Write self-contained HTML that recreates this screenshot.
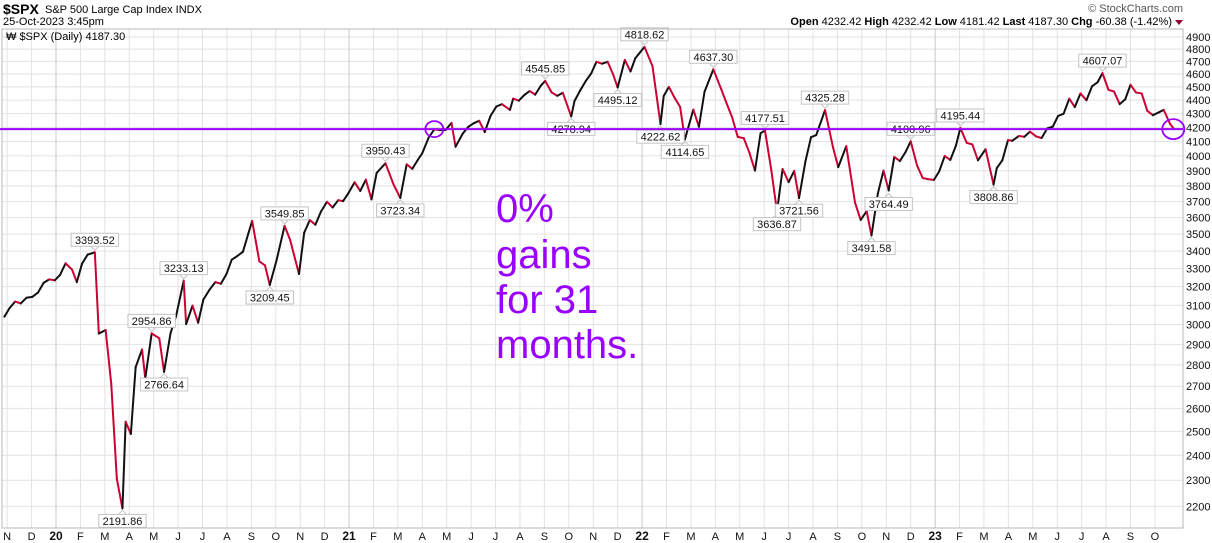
<!DOCTYPE html>
<html><head><meta charset="utf-8">
<style>
html,body{margin:0;padding:0;background:#fff;}
body{width:1212px;height:543px;overflow:hidden;position:relative;font-family:"Liberation Sans",Arial,sans-serif;}
svg{position:absolute;left:0;top:0;}
</style></head>
<body>
<svg id="chart" width="1212" height="543" viewBox="0 0 1212 543" xmlns="http://www.w3.org/2000/svg" font-family="Liberation Sans, Arial, sans-serif">
  <g id="grid"></g>
  <g id="series"></g>
  <g id="annots"></g>
  <g id="yaxis"></g>
  <g id="xaxis"></g>
  <rect x="2" y="29" width="1181" height="499" fill="none" stroke="#b8b8b8" stroke-width="1"/>
  <text x="3" y="14" font-size="14" font-weight="bold">$SPX</text>
  <text x="45" y="13" font-size="11">S&amp;P 500 Large Cap Index  INDX</text>
  <text x="3" y="25" font-size="11">25-Oct-2023 3:45pm</text>
  <text x="6" y="40" font-size="11">₩ $SPX (Daily) 4187.30</text>
  <text x="1183" y="12" font-size="11" fill="#555" text-anchor="end">© StockCharts.com</text>
  <text x="1172" y="25" font-size="11" text-anchor="end"><tspan font-weight="bold">Open</tspan> 4232.42  <tspan font-weight="bold">High</tspan> 4232.42  <tspan font-weight="bold">Low</tspan> 4181.42  <tspan font-weight="bold">Last</tspan> 4187.30  <tspan font-weight="bold">Chg</tspan> -60.38 (-1.42%)</text>
  <path d="M1175 20 L1183 20 L1179 25 Z" fill="#8b0030"/>
  <g id="overlay"></g>
  <g font-size="40" fill="#9900ff">
    <text x="496" y="222">0%</text>
    <text x="496" y="268">gains</text>
    <text x="496" y="313">for 31</text>
    <text x="496" y="358">months.</text>
  </g>
</svg>
<script>
const dates = ["2019-10-28","2019-11-04","2019-11-11","2019-11-18","2019-11-25","2019-12-02","2019-12-09","2019-12-16","2019-12-23","2019-12-30","2020-01-06","2020-01-13","2020-01-21","2020-01-27","2020-02-03","2020-02-10","2020-02-19","2020-02-24","2020-03-02","2020-03-09","2020-03-16","2020-03-23","2020-03-27","2020-04-03","2020-04-09","2020-04-17","2020-04-21","2020-04-29","2020-05-08","2020-05-14","2020-05-22","2020-05-29","2020-06-08","2020-06-11","2020-06-19","2020-06-26","2020-07-02","2020-07-10","2020-07-17","2020-07-24","2020-07-31","2020-08-07","2020-08-14","2020-08-21","2020-08-28","2020-09-02","2020-09-11","2020-09-18","2020-09-24","2020-10-02","2020-10-12","2020-10-19","2020-10-30","2020-11-06","2020-11-13","2020-11-20","2020-11-27","2020-12-04","2020-12-11","2020-12-18","2020-12-24","2020-12-31","2021-01-08","2021-01-15","2021-01-22","2021-01-29","2021-02-05","2021-02-16","2021-02-26","2021-03-04","2021-03-12","2021-03-19","2021-03-26","2021-04-01","2021-04-09","2021-04-16","2021-04-23","2021-04-30","2021-05-07","2021-05-12","2021-05-21","2021-05-28","2021-06-04","2021-06-11","2021-06-18","2021-06-25","2021-07-02","2021-07-09","2021-07-19","2021-07-23","2021-07-30","2021-08-06","2021-08-13","2021-08-20","2021-08-27","2021-09-02","2021-09-10","2021-09-17","2021-09-24","2021-10-04","2021-10-08","2021-10-15","2021-10-22","2021-10-29","2021-11-05","2021-11-12","2021-11-19","2021-11-26","2021-12-01","2021-12-10","2021-12-17","2021-12-23","2022-01-04","2022-01-14","2022-01-24","2022-01-28","2022-02-04","2022-02-11","2022-02-18","2022-02-24","2022-03-04","2022-03-11","2022-03-18","2022-03-29","2022-04-08","2022-04-14","2022-04-22","2022-04-29","2022-05-06","2022-05-13","2022-05-20","2022-05-27","2022-06-02","2022-06-10","2022-06-17","2022-06-24","2022-07-01","2022-07-08","2022-07-14","2022-07-22","2022-07-29","2022-08-05","2022-08-16","2022-08-26","2022-09-02","2022-09-12","2022-09-23","2022-09-30","2022-10-07","2022-10-13","2022-10-21","2022-10-28","2022-11-04","2022-11-11","2022-11-18","2022-11-25","2022-12-01","2022-12-09","2022-12-16","2022-12-22","2022-12-30","2023-01-06","2023-01-13","2023-01-20","2023-01-27","2023-02-02","2023-02-10","2023-02-17","2023-02-24","2023-03-03","2023-03-13","2023-03-17","2023-03-24","2023-03-31","2023-04-06","2023-04-14","2023-04-21","2023-04-28","2023-05-05","2023-05-12","2023-05-19","2023-05-26","2023-06-02","2023-06-09","2023-06-16","2023-06-23","2023-06-30","2023-07-07","2023-07-14","2023-07-21","2023-07-27","2023-08-04","2023-08-11","2023-08-18","2023-08-25","2023-09-01","2023-09-08","2023-09-15","2023-09-22","2023-09-29","2023-10-06","2023-10-12","2023-10-20","2023-10-25"];
const closes = [3040,3085,3120,3110,3140,3145,3168,3221,3240,3235,3265,3330,3295,3225,3328,3380,3393,2954,2972,2711,2305,2192,2541,2489,2790,2875,2737,2955,2930,2767,2955,3044,3233,3002,3098,3009,3130,3185,3225,3216,3271,3351,3372,3397,3508,3580,3341,3319,3209,3348,3550,3465,3270,3509,3585,3557,3638,3699,3663,3709,3703,3756,3824,3768,3841,3714,3886,3950,3811,3723,3943,3913,3974,4019,4128,4185,4180,4181,4232,4063,4155,4204,4229,4247,4166,4280,4352,4369,4327,4411,4395,4436,4468,4441,4509,4546,4458,4432,4455,4279,4391,4471,4544,4605,4697,4682,4697,4594,4495,4712,4620,4725,4818,4662,4223,4431,4500,4418,4349,4115,4329,4204,4463,4637,4488,4392,4272,4132,4123,4023,3901,4158,4177,3901,3637,3912,3825,3899,3722,3962,4130,4145,4325,4058,3924,4067,3693,3586,3640,3492,3752,3901,3771,3993,3965,4026,4101,3934,3852,3845,3840,3895,3999,3973,4071,4195,4090,4079,3970,4046,3809,3917,3971,4109,4105,4138,4133,4169,4136,4124,4192,4205,4282,4299,4410,4348,4450,4399,4505,4536,4607,4478,4464,4370,4406,4516,4457,4450,4320,4288,4309,4327,4224,4187];
const labelDates = ["2020-02-19","2020-03-23","2020-04-29","2020-05-14","2020-06-08","2020-09-24","2020-10-12","2021-02-16","2021-03-04","2021-09-02","2021-10-04","2021-12-01","2022-01-04","2022-01-24","2022-02-24","2022-03-29","2022-06-02","2022-06-17","2022-07-14","2022-08-16","2022-10-13","2022-12-01","2023-02-02","2023-03-13","2023-07-27","2022-11-04"];
const labelValues = ["3393.52","2191.86","2954.86","2766.64","3233.13","3209.45","3549.85","3950.43","3723.34","4545.85","4278.94","4495.12","4818.62","4222.62","4114.65","4637.30","4177.51","3636.87","3721.56","4325.28","3491.58","4100.96","4195.44","3808.86","4607.07","3764.49"];
const labelIsHigh = [1,0,1,0,1,0,1,1,0,1,0,0,1,0,0,1,1,0,0,1,0,1,1,0,1,0];
const yTicks = [2200,2300,2400,2500,2600,2700,2800,2900,3000,3100,3200,3300,3400,3500,3600,3700,3800,3900,4000,4100,4200,4300,4400,4500,4600,4700,4800,4900];
const monthLabels = ["N","D","20","F","M","A","M","J","J","A","S","O","N","D","21","F","M","A","M","J","J","A","S","O","N","D","22","F","M","A","M","J","J","A","S","O","N","D","23","F","M","A","M","J","J","A","S","O"];
const refLevel = 4187.30;

const NS="http://www.w3.org/2000/svg";
function mk(tag, attrs, parent){const e=document.createElementNS(NS,tag);for(const k in attrs)e.setAttribute(k,attrs[k]);parent.appendChild(e);return e;}
function xOfMonth(m){return 56 + m*24.42;}
function xOfDate(s){const [y,mo,d]=s.split("-").map(Number);return xOfMonth((y-2020)*12+(mo-1)+(d-1)/30.5);}
function yOf(v){return 37 + 586*Math.log(4900/v);}

const grid=document.getElementById("grid"), yaxis=document.getElementById("yaxis"), xaxis=document.getElementById("xaxis");
yTicks.forEach(v=>{
  const y=yOf(v);
  const l=mk("line",{x1:2,x2:1183,y1:y,y2:y,stroke:"#e2e2e2","stroke-width":1},grid);
  
  
  const t=mk("text",{x:1186,y:y+4,"font-size":11,fill:"#111"},yaxis);
  t.textContent=v;
  
  
});
monthLabels.forEach((lab,i)=>{
  const x=xOfMonth(i-2);
  const isYear=/\d/.test(lab);
  const l=mk("line",{x1:x,x2:x,y1:29,y2:528,stroke:isYear?"#c8c8c8":"#e2e2e2","stroke-width":1},grid);
  
  
  const t=mk("text",{x:x,y:540,"font-size":isYear?12:11,"font-weight":isYear?"bold":"normal","text-anchor":"middle",fill:"#111"},xaxis);
  t.textContent=lab;
  
  
});

const series=document.getElementById("series");
for(let i=1;i<dates.length;i++){
  const down=closes[i]<closes[i-1];
  const seg=mk("line",{x1:xOfDate(dates[i-1]),y1:yOf(closes[i-1]),x2:xOfDate(dates[i]),y2:yOf(closes[i]),stroke:down?"#cc0033":"#111","stroke-width":2,"stroke-linecap":"round"},series);
  
  
}

const annots=document.getElementById("annots");
labelDates.forEach((d,i)=>{
  const v=parseFloat(labelValues[i]);
  const x=xOfDate(d), y=yOf(v);
  const hi=labelIsHigh[i]===1;
  const w=labelValues[i].length*6.2+4, h=13;
  const by=hi? y-6-h : y+6;
  const g=mk("g",{},annots);
  
  
  mk("rect",{x:x-w/2,y:by,width:w,height:h,fill:"#fff",stroke:"#c4c4c4","stroke-width":1},g);
  const py=hi? y-6 : y+6;
  mk("path",{d:`M${x-4} ${py} L${x} ${hi?py+4:py-4} L${x+4} ${py}`,fill:"none",stroke:"#c4c4c4"},g);
  const t=mk("text",{x:x,y:by+10.5,"font-size":11,"text-anchor":"middle",fill:"#111"},g);
  t.textContent=labelValues[i];
});

const ov=document.getElementById("overlay");
const ry=yOf(refLevel);
const ref=mk("line",{x1:0,x2:1183,y1:ry,y2:ry,stroke:"#9900ff","stroke-width":2},ov);


const c1=mk("ellipse",{cx:xOfDate("2021-04-16"),cy:ry,rx:9,ry:8,fill:"none",stroke:"#9900ff","stroke-width":1.8},ov);


const c2=mk("ellipse",{cx:xOfDate("2023-10-24"),cy:ry,rx:11,ry:10,fill:"none",stroke:"#9900ff","stroke-width":1.8},ov);


</script>
</body></html>
